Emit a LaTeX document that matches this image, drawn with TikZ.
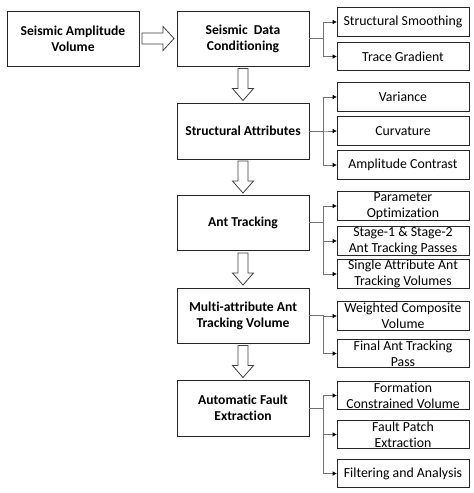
\documentclass[tikz,border=0pt]{standalone}
\usepackage{fontspec}
\setmainfont{Carlito}[Ligatures={NoCommon}]
\usetikzlibrary{arrows.meta,calc}
\begin{document}
\begin{tikzpicture}[x=1pt,y=-1pt,
  box/.style={draw=black!85, line width=0.8pt, align=center, inner sep=0pt, minimum width=132pt, text=black},
  mainbox/.style={box, font=\bfseries\fontsize{13.6}{16}\selectfont, minimum height=55pt},
  subbox/.style={box, font=\fontsize{13.8}{16}\selectfont, minimum height=28.5pt},
  conn/.style={draw=black!55, line width=0.8pt, -{Triangle[length=4pt,width=4pt,color=black]}},
  hollow/.style={draw=black!75, line width=0.8pt, fill=white},
  downarr/.pic={\draw[hollow] (-5,-16) -- (-5,4) -- (-10.5,4) -- (0,16) -- (10.5,4) -- (5,4) -- (5,-16) -- cycle;},
  rightarr/.pic={\draw[hollow] (-16,-5.5) -- (5,-5.5) -- (5,-12) -- (16,0) -- (5,12) -- (5,5.5) -- (-16,5.5) -- cycle;}
]
\path[use as bounding box, fill=white] (0,0) rectangle (474,493);

% main column
\node[mainbox] (sav) at (73,38.5) {Seismic Amplitude\\Volume};
\node[mainbox] (sdc) at (243,38.5) {Seismic\ \ Data\\Conditioning};
\node[mainbox, minimum height=56pt] (sa) at (243,131) {Structural Attributes};
\node[mainbox] (at) at (243,222.5) {Ant Tracking};
\node[mainbox] (ma) at (243,315.5) {Multi-attribute Ant\\Tracking Volume};
\node[mainbox, minimum height=56pt] (afe) at (243,408) {Automatic Fault\\Extraction};

% right column
\node[subbox] (ss) at (403,22) {Structural Smoothing};
\node[subbox] (tg) at (403,56.5) {Trace Gradient};
\node[subbox] (var) at (403,97) {Variance};
\node[subbox] (cur) at (403,131) {Curvature};
\node[subbox] (ac) at (403,165) {Amplitude Contrast};
\node[subbox] (po) at (403,206) {Parameter\\Optimization};
\node[subbox] (st) at (403,241) {Stage-1 \& Stage-2\\Ant Tracking Passes};
\node[subbox] (sat) at (403,274) {Single Attribute Ant\\Tracking Volumes};
\node[subbox] (wc) at (403,316) {Weighted Composite\\Volume};
\node[subbox] (fat) at (403,353.5) {Final Ant Tracking\\Pass};
\node[subbox] (fcv) at (403,395.5) {Formation\\Constrained Volume};
\node[subbox] (fpe) at (403,434.5) {Fault Patch\\Extraction};
\node[subbox] (fa) at (403,473.5) {Filtering and Analysis};

% hollow arrows
\pic at ($(sav.east)!0.5!(sdc.west)$) {rightarr};
\pic at ($(sdc.south)!0.5!(sa.north)$) {downarr};
\pic at ($(sa.south)!0.5!(at.north)$) {downarr};
\pic at ($(at.south)!0.5!(ma.north)$) {downarr};
\pic at ($(ma.south)!0.5!(afe.north)$) {downarr};

% connectors
\foreach \s/\t in {sdc/ss, sdc/tg, sa/var, sa/cur, sa/ac, at/po, at/st, at/sat, ma/wc, ma/fat, afe/fcv, afe/fpe, afe/fa}
  \draw[conn] (\s.east) -- ++(14,0) |- (\t.west);
\end{tikzpicture}
\end{document}
